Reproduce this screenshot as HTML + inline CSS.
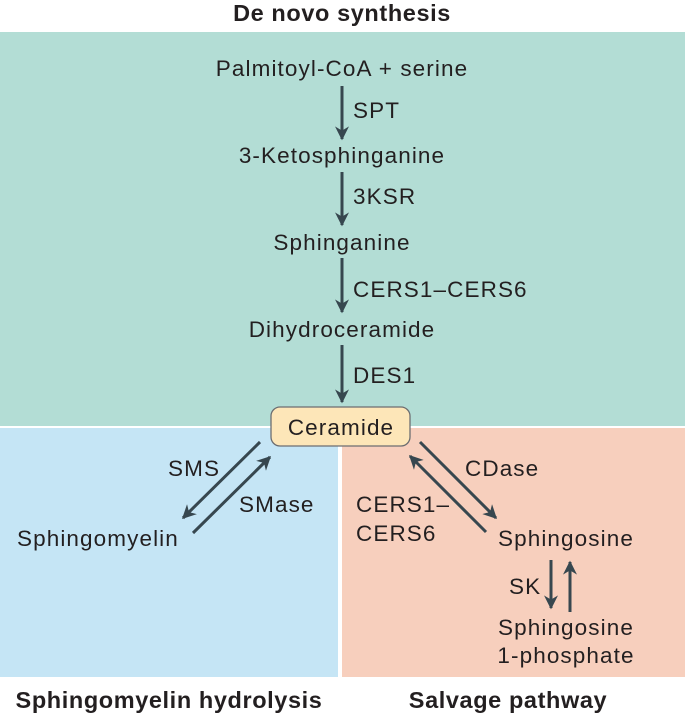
<!DOCTYPE html>
<html><head><meta charset="utf-8"><style>
html,body{margin:0;padding:0;background:#fff}
svg{display:block}
text{font-family:"Liberation Sans",sans-serif;fill:#231f20;font-size:22.5px;letter-spacing:1.1px}
.b{font-weight:bold;font-size:23.5px;letter-spacing:0.6px}
</style></head><body>
<svg width="685" height="717" viewBox="0 0 685 717">
<defs>
<marker id="h" viewBox="0 0 10 10" markerWidth="14" markerHeight="14" refX="9" refY="5" orient="auto" markerUnits="userSpaceOnUse"><path d="M0,0 L10,5 L0,10 L3,5 Z" fill="#37474f"/></marker></defs>
<rect x="0" y="32" width="685" height="394" fill="#b3ddd5"/>
<rect x="0" y="428" width="338" height="249" fill="#c5e5f5"/>
<rect x="342" y="428" width="343" height="249" fill="#f7cfbd"/>
<text class="b" x="342" y="21" text-anchor="middle">De novo synthesis</text>
<g stroke="#37474f" stroke-width="3" fill="none">
<line x1="342" y1="86" x2="342" y2="139" marker-end="url(#h)"/>
<line x1="342" y1="172" x2="342" y2="225" marker-end="url(#h)"/>
<line x1="342" y1="258" x2="342" y2="312" marker-end="url(#h)"/>
<line x1="342" y1="345" x2="342" y2="402" marker-end="url(#h)"/>
<line x1="260" y1="442" x2="183" y2="518" marker-end="url(#h)"/>
<line x1="193" y1="533" x2="270" y2="457" marker-end="url(#h)"/>
<line x1="420" y1="442" x2="496" y2="518" marker-end="url(#h)"/>
<line x1="486" y1="532" x2="410" y2="456" marker-end="url(#h)"/>
<line x1="551" y1="560" x2="551" y2="608" marker-end="url(#h)"/>
<line x1="570" y1="612" x2="570" y2="562" marker-end="url(#h)"/>
</g>
<text x="342" y="76" text-anchor="middle">Palmitoyl-CoA + serine</text>
<text x="353" y="118">SPT</text>
<text x="342" y="163" text-anchor="middle">3-Ketosphinganine</text>
<text x="353" y="204">3KSR</text>
<text x="342" y="250" text-anchor="middle">Sphinganine</text>
<text x="353" y="297">CERS1–CERS6</text>
<text x="342" y="337" text-anchor="middle">Dihydroceramide</text>
<text x="353" y="383">DES1</text>
<rect x="271" y="407" width="139" height="39" rx="9" fill="#fde6b8" stroke="#6d6e71" stroke-width="1.3"/>
<text x="341" y="435" text-anchor="middle">Ceramide</text>
<text x="168" y="476">SMS</text>
<text x="239" y="512">SMase</text>
<text x="17" y="546">Sphingomyelin</text>
<text x="465" y="476">CDase</text>
<text x="356" y="512">CERS1–</text>
<text x="356" y="541">CERS6</text>
<text x="498" y="546">Sphingosine</text>
<text x="509" y="594">SK</text>
<text x="566" y="635" text-anchor="middle">Sphingosine</text>
<text x="566" y="663" text-anchor="middle">1-phosphate</text>
<text class="b" x="169" y="708" text-anchor="middle">Sphingomyelin hydrolysis</text>
<text class="b" x="508" y="708" text-anchor="middle">Salvage pathway</text>
</svg>
</body></html>
